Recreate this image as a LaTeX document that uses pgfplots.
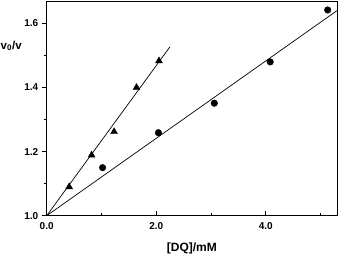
\documentclass[border=0pt]{standalone}
\usepackage{fontspec}
\setmainfont{Liberation Sans}
\usepackage{pgfplots}
\pgfplotsset{compat=1.18}
\begin{document}
\begin{tikzpicture}
\begin{axis}[
  at={(0,0)}, anchor=south west,
  scale only axis, width=290.3pt, height=214.7pt,
  xmin=0, xmax=5.3, ymin=1.0, ymax=1.67,
  axis line style={line width=0.9pt},
  xtick={0,2,4}, minor xtick={1,3,5},
  ytick={1.0,1.2,1.4,1.6}, minor ytick={1.1,1.3,1.5},
  xtick pos=bottom, ytick pos=left,
  xtick align=inside, ytick align=outside,
  major tick length=5pt, minor tick length=3pt,
  every tick/.style={black, line width=0.8pt},
  /pgf/number format/.cd, fixed, fixed zerofill, precision=1, assume math mode=true,
  /pgfplots/.cd,
  tick label style={font=\fontsize{10}{12}\selectfont\bfseries},
  xticklabel style={yshift=-3pt},
  xlabel={[DQ]/mM},
  xlabel style={at={(rel axis cs:0.5,0)}, anchor=center, yshift=-32.5pt, font=\fontsize{12}{14}\selectfont\bfseries},
  ylabel={v\textsubscript{0}/v},
  ylabel style={at={(rel axis cs:0,0.776)}, anchor=base, rotate=-90, xshift=-35.5pt, font=\fontsize{11.5}{13}\selectfont\bfseries},
]
\addplot[only marks, mark=triangle*, mark size=4pt, black] coordinates {(0.41,1.09)(0.82,1.189)(1.23,1.262)(1.64,1.40)(2.05,1.483)};
\addplot[only marks, mark=*, mark size=3.3pt, black] coordinates {(1.02,1.15)(2.04,1.259)(3.06,1.351)(4.08,1.48)(5.13,1.642)};
\addplot[no marks, black, line width=0.7pt] coordinates {(0,1)(2.25,1.527)};
\addplot[no marks, black, line width=0.7pt] coordinates {(0,1)(5.3,1.64)};
\end{axis}
\pgfresetboundingbox
\useasboundingbox (-46.7pt,-38.3pt) rectangle (291.3pt,215.7pt);
\end{tikzpicture}
\end{document}
